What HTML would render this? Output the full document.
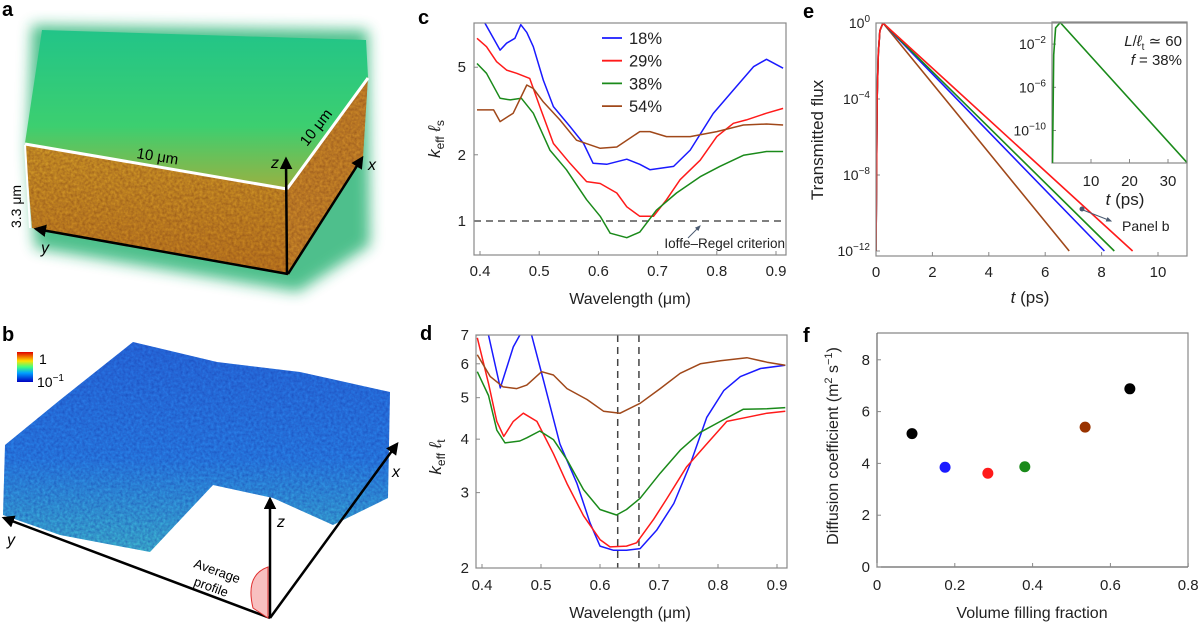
<!DOCTYPE html>
<html><head><meta charset="utf-8"><style>
html,body{margin:0;padding:0;background:#fff;}
svg{display:block;font-family:"Liberation Sans",sans-serif;}
</style></head><body>
<svg id="fig" width="1200" height="624" viewBox="0 0 1200 624" xmlns="http://www.w3.org/2000/svg">
<defs>
<filter id="blur8" x="-20%" y="-20%" width="140%" height="140%"><feGaussianBlur stdDeviation="7"/></filter>
<filter id="tex" x="0" y="0" width="100%" height="100%">
<feTurbulence type="fractalNoise" baseFrequency="0.35" numOctaves="2" seed="3" result="n"/>
<feColorMatrix in="n" type="matrix" values="0 0 0 0 0  0 0 0 0 0  0 0 0 0 0  0 0 0 -1.4 1.1" result="a"/>
<feComposite in="SourceGraphic" in2="a" operator="in"/>
</filter>
<linearGradient id="topG" x1="0" y1="0" x2="0" y2="1"><stop offset="0" stop-color="#22c488"/><stop offset="0.6" stop-color="#3ccf70"/><stop offset="1" stop-color="#9cb040"/></linearGradient>
<linearGradient id="frontG" x1="0" y1="0" x2="0" y2="1"><stop offset="0" stop-color="#d09a2a"/><stop offset="1" stop-color="#c07a20"/></linearGradient>
<linearGradient id="bG" x1="0" y1="0" x2="0" y2="1"><stop offset="0" stop-color="#2a6ee0"/><stop offset="0.55" stop-color="#2a80e6"/><stop offset="1" stop-color="#40b8d0"/></linearGradient>
<linearGradient id="jet" x1="0" y1="1" x2="0" y2="0"><stop offset="0" stop-color="#0000c0"/><stop offset="0.3" stop-color="#00a0ff"/><stop offset="0.5" stop-color="#40ff80"/><stop offset="0.7" stop-color="#ffe000"/><stop offset="1" stop-color="#e00000"/></linearGradient>
<marker id="ah" viewBox="0 0 10 10" refX="8" refY="5" markerWidth="5" markerHeight="5" orient="auto"><path d="M0,0L10,5L0,10z" fill="#000"/></marker>
<marker id="ahg" viewBox="0 0 10 10" refX="8" refY="5" markerWidth="6" markerHeight="6" orient="auto"><path d="M0,1L10,5L0,9z" fill="#4a5a70"/></marker>
<clipPath id="clipC"><rect x="474" y="23" width="312" height="232"/></clipPath>
<clipPath id="clipD"><rect x="476" y="335" width="311" height="233"/></clipPath>
<clipPath id="clipE"><rect x="876" y="23" width="311" height="233"/></clipPath>
<clipPath id="clipI"><rect x="1052" y="22" width="135" height="141"/></clipPath>
</defs>

<!-- Panel a -->
<g>
<text x="2" y="16" font-size="20" font-weight="bold">a</text>
<polygon points="32,25 368,30 370,245 298,292 35,248 28,150" fill="#20b070" opacity="0.8" filter="url(#blur8)"/>
<polygon points="42,30 366,40 368,77 287,190 25,143" fill="url(#topG)"/>
<polygon points="25,143 287,190 288,275 32,228" fill="url(#frontG)"/>
<polygon points="25,143 287,190 288,275 32,228" fill="#7a3a10" filter="url(#tex)" opacity="0.55"/>
<polygon points="287,190 368,77 363,157 288,275" fill="#c8862a"/>
<polygon points="287,190 368,77 363,157 288,275" fill="#7a3a10" filter="url(#tex)" opacity="0.55"/>
<line x1="25" y1="144" x2="287" y2="189" stroke="#fff" stroke-width="3"/>
<line x1="287" y1="189" x2="368" y2="78" stroke="#fff" stroke-width="3"/>
<line x1="25" y1="145" x2="30" y2="228" stroke="#fff" stroke-width="2"/>
<text x="136" y="158" font-size="15" transform="rotate(9 136 158)">10 μm</text>
<text x="307" y="147" font-size="15" transform="rotate(-52 307 147)">10 μm</text>
<text x="21" y="228" font-size="14" transform="rotate(-90 21 228)">3.3 μm</text>
<line x1="288" y1="274" x2="36" y2="229" stroke="#000" stroke-width="2.5" marker-end="url(#ah)"/>
<line x1="288" y1="274" x2="362" y2="158" stroke="#000" stroke-width="2.5" marker-end="url(#ah)"/>
<line x1="287" y1="274" x2="286" y2="159" stroke="#000" stroke-width="2.5" marker-end="url(#ah)"/>
<text x="41" y="253" font-size="16" font-style="italic">y</text>
<text x="368" y="170" font-size="16" font-style="italic">x</text>
<text x="271" y="168" font-size="16" font-style="italic">z</text>
</g>

<!-- Panel b -->
<g>
<text x="2" y="341" font-size="20" font-weight="bold">b</text>
<rect x="17" y="352" width="16" height="30" fill="url(#jet)"/>
<text x="39" y="364" font-size="14">1</text>
<text x="37" y="387" font-size="14">10<tspan font-size="10" dy="-6">−1</tspan></text>
<polygon points="5,445 60,400 133,342 217,362 300,372 390,392 388,498 333,525 273,498 213,485 150,552 60,535 3,515" fill="url(#bG)"/>
<polygon points="5,445 60,400 133,342 217,362 300,372 390,392 388,498 333,525 273,498 213,485 150,552 60,535 3,515" fill="#1030a0" filter="url(#tex)" opacity="0.5"/>
<line x1="270" y1="618" x2="4" y2="518" stroke="#000" stroke-width="2.5" marker-end="url(#ah)"/>
<line x1="270" y1="618" x2="397" y2="444" stroke="#000" stroke-width="2.5" marker-end="url(#ah)"/>
<line x1="270" y1="618" x2="270" y2="499" stroke="#000" stroke-width="2.5" marker-end="url(#ah)"/>
<text x="7" y="545" font-size="16" font-style="italic">y</text>
<text x="392" y="477" font-size="16" font-style="italic">x</text>
<text x="277" y="527" font-size="16" font-style="italic">z</text>
<path d="M268,567 Q245,575 253,608 L268,618 Z" fill="#f8c0c0" stroke="#e03030" stroke-width="1"/>
<text x="193" y="567" font-size="13" transform="rotate(20 193 567)">Average</text>
<text x="193" y="585" font-size="13" transform="rotate(20 193 585)">profile</text>
</g>

<g id="charts"></g>
</svg>
<script>
// ---- Panel c data ----
var cBlueWl=[0.408,0.434,0.445,0.459,0.469,0.479,0.49,0.507,0.524,0.552,0.575,0.591,0.614,0.648,0.670,0.687,0.727,0.755,0.794,0.828,0.862,0.884,0.912];
var cBlueV=[7.97,5.98,6.43,6.77,7.8,7.2,6.2,4.37,3.31,2.69,2.25,1.83,1.81,1.91,1.81,1.71,1.77,2.10,3.08,3.94,5.03,5.43,4.95];
var cRedWl=[0.395,0.411,0.428,0.445,0.462,0.484,0.501,0.524,0.552,0.580,0.603,0.631,0.648,0.670,0.693,0.715,0.738,0.772,0.800,0.828,0.850,0.884,0.912];
var cRedV=[6.77,6.2,5.3,4.85,4.69,4.45,3.31,2.25,1.83,1.51,1.48,1.34,1.16,1.05,1.05,1.25,1.54,1.89,2.42,2.78,2.88,3.09,3.25];
var cGreenWl=[0.395,0.411,0.434,0.451,0.470,0.490,0.518,0.546,0.580,0.603,0.620,0.648,0.670,0.698,0.732,0.772,0.805,0.845,0.884,0.912];
var cGreenV=[5.2,4.69,3.61,3.55,3.61,3.09,2.10,1.71,1.25,1.05,0.88,0.84,0.89,1.12,1.34,1.59,1.77,1.99,2.07,2.07];
var cBrownWl=[0.395,0.423,0.434,0.456,0.479,0.490,0.507,0.535,0.563,0.603,0.631,0.670,0.687,0.715,0.755,0.800,0.845,0.884,0.912];
var cBrownV=[3.2,3.2,2.83,3.09,4.15,4.0,3.48,2.88,2.33,2.14,2.17,2.55,2.55,2.42,2.42,2.55,2.73,2.76,2.73];
var cXTicks=[0.4,0.5,0.6,0.7,0.8,0.9];
var cYTicks=[1,2,5];
var legendLabels=["18%","29%","38%","54%"];
// ---- Panel d data ----
var dBlueWl=[0.411,0.431,0.453,0.464,0.474,0.484,0.504,0.532,0.561,0.583,0.600,0.623,0.645,0.668,0.696,0.725,0.753,0.781,0.810,0.838,0.872,0.914];
var dBlueV=[7.0,5.27,6.57,7.0,7.6,7.0,5.5,3.9,3.15,2.55,2.25,2.2,2.2,2.22,2.45,2.83,3.5,4.5,5.2,5.6,5.85,5.95];
var dRedWl=[0.392,0.411,0.425,0.437,0.453,0.470,0.493,0.521,0.544,0.572,0.600,0.617,0.645,0.662,0.691,0.713,0.747,0.781,0.815,0.849,0.883,0.914];
var dRedV=[6.9,5.4,4.4,4.06,4.4,4.6,4.4,3.7,3.15,2.65,2.33,2.24,2.25,2.29,2.6,2.9,3.45,3.9,4.4,4.5,4.6,4.65];
var dGreenWl=[0.392,0.411,0.425,0.439,0.464,0.476,0.498,0.521,0.544,0.572,0.600,0.628,0.645,0.668,0.702,0.736,0.770,0.804,0.843,0.883,0.914];
var dGreenV=[5.75,5.06,4.2,3.92,3.96,4.03,4.18,3.99,3.58,3.05,2.74,2.66,2.74,2.91,3.33,3.77,4.15,4.4,4.7,4.71,4.74];
var dBrownWl=[0.392,0.414,0.436,0.459,0.476,0.501,0.521,0.544,0.578,0.606,0.634,0.668,0.702,0.736,0.770,0.804,0.849,0.883,0.914];
var dBrownV=[6.3,5.6,5.3,5.25,5.35,5.75,5.65,5.25,4.95,4.65,4.6,4.85,5.25,5.7,6.0,6.1,6.2,6.05,5.95];
var dDashWl=[0.630,0.666];
var dYTicks=[2,3,4,5,6,7];
// ---- Panel e data (log10 flux) ----
var eT=[0,0.04,0.08,0.14,0.25];
var eLogRise=[-12,-4,-1.6,-0.4,0];
var eEndT=[8.1,9.1,8.45,6.85]; // blue, red, green, brown: time at 1e-12
var eXTicks=[0,2,4,6,8,10];
var eYTicks=[0,-4,-8,-12];
var insetT=[0,0.3,0.8,2,35];
var insetLog=[-13,-3,-0.5,0,-13];
var insetXTicks=[10,20,30];
var insetYTicks=[-2,-6,-10];
// ---- Panel f data ----
var fFrac=[0.09,0.175,0.285,0.38,0.535,0.65];
var fD=[5.15,3.85,3.62,3.87,5.4,6.88];
var fColors=["#000","#1a1aff","#ff1a1a","#1a8a1a","#993300","#000"];
var fXTicks=[0,0.2,0.4,0.6,0.8];
var fYTicks=[0,2,4,6,8];

var colors=["#1a1aff","#ff1a1a","#1a8a1a","#a0481a"];
var NS="http://www.w3.org/2000/svg";
var root=document.getElementById("charts");
function mk(tag,attrs,parent){var e=document.createElementNS(NS,tag);for(var k in attrs)e.setAttribute(k,attrs[k]);(parent||root).appendChild(e);return e;}
function txt(x,y,s,size,anchor,parent){var t=mk("text",{x:x,y:y,"font-size":size,"text-anchor":anchor||"middle",fill:"#222"},parent);t.textContent=s;return t;}
function pathFrom(xs,ys,fx,fy){var d="";for(var i=0;i<xs.length;i++)d+=(i?"L":"M")+fx(xs[i]).toFixed(1)+","+fy(ys[i]).toFixed(1);return d;}
function frame(x,y,w,h,name){var r=mk("rect",{x:x,y:y,width:w,height:h,fill:"none",stroke:"#888","stroke-width":1.2});}

// ===== Panel c =====
var cx=function(w){return 480+(w-0.4)*592;};
var cy=function(v){return 221-220*Math.log10(v);};
var gc=mk("g",{});


var lc=txt(418,24,"c",20,"start",gc);lc.setAttribute("font-weight","bold");lc.setAttribute("fill","#000");


frame(474,23,312,232,'panel-c-frame');
cXTicks.forEach(function(t){mk("line",{x1:cx(t),x2:cx(t),y1:255,y2:251,stroke:"#888"},gc);var l=txt(cx(t),276,t.toFixed(1),15,"middle",gc);

});
cYTicks.forEach(function(t){mk("line",{x1:474,x2:478,y1:cy(t),y2:cy(t),stroke:"#888"},gc);var l=txt(466,cy(t)+5,String(t),15,"end",gc);

});
var xc=txt(630,304,"Wavelength (μm)",16,"middle",gc);


var yc=mk("text",{x:0,y:0,"font-size":17,"text-anchor":"middle",transform:"translate(440,139) rotate(-90)",fill:"#222"},gc);
yc.innerHTML='<tspan font-style="italic">k</tspan><tspan font-size="12" dy="4">eff</tspan><tspan dy="-4" font-style="italic"> ℓ</tspan><tspan font-size="12" dy="4">s</tspan>';


var dl=mk("line",{x1:474,x2:786,y1:cy(1),y2:cy(1),stroke:"#333","stroke-dasharray":"7,5","stroke-width":1.2},gc);


var ir=txt(785,248,"Ioffe–Regel criterion",13.5,"end",gc);


var ia=mk("line",{x1:688,y1:238,x2:700,y2:226,stroke:"#4a5a70","stroke-width":1,"marker-end":"url(#ahg)"},gc);


var cSeries=[[cBlueWl,cBlueV],[cRedWl,cRedV],[cGreenWl,cGreenV],[cBrownWl,cBrownV]];
var cNames=['c-line-18','c-line-29','c-line-38','c-line-54'];
cSeries.forEach(function(s,i){var p=mk("path",{d:pathFrom(s[0],s[1],cx,cy),fill:"none",stroke:colors[i],"stroke-width":1.5,"clip-path":"url(#clipC)","stroke-linejoin":"round"},gc);

});
legendLabels.forEach(function(s,i){var y=38+i*22.7;var g=mk("g",{},gc);


mk("line",{x1:602,x2:622,y1:y,y2:y,stroke:colors[i],"stroke-width":1.8},g);txt(629,y+6,s,16.5,"start",g);});

// ===== Panel d =====
var dx=function(w){return 482+(w-0.4)*590;};
var dy=function(v){return 568-428*Math.log10(v/2);};
var gd=mk("g",{});


var ld=txt(420,340,"d",20,"start",gd);ld.setAttribute("font-weight","bold");ld.setAttribute("fill","#000");


frame(476,335,311,233,'panel-d-frame');
cXTicks.forEach(function(t){mk("line",{x1:dx(t),x2:dx(t),y1:568,y2:564,stroke:"#888"},gd);var l=txt(dx(t),590,t.toFixed(1),15,"middle",gd);

});
dYTicks.forEach(function(t){mk("line",{x1:476,x2:480,y1:dy(t),y2:dy(t),stroke:"#888"},gd);var l=txt(469,dy(t)+5,String(t),15,"end",gd);

});
var xd=txt(630,618,"Wavelength (μm)",16,"middle",gd);


var yd=mk("text",{x:0,y:0,"font-size":17,"text-anchor":"middle",transform:"translate(441,457) rotate(-90)",fill:"#222"},gd);
yd.innerHTML='<tspan font-style="italic">k</tspan><tspan font-size="12" dy="4">eff</tspan><tspan dy="-4" font-style="italic"> ℓ</tspan><tspan font-size="12" dy="4">t</tspan>';


dDashWl.forEach(function(w){var l=mk("line",{x1:dx(w),x2:dx(w),y1:335,y2:568,stroke:"#444","stroke-dasharray":"7,5","stroke-width":1.5},gd);

});
var dSeries=[[dBlueWl,dBlueV],[dRedWl,dRedV],[dGreenWl,dGreenV],[dBrownWl,dBrownV]];
var dNames=['d-line-18','d-line-29','d-line-38','d-line-54'];
dSeries.forEach(function(s,i){var p=mk("path",{d:pathFrom(s[0],s[1],dx,dy),fill:"none",stroke:colors[i],"stroke-width":1.5,"clip-path":"url(#clipD)","stroke-linejoin":"round"},gd);

});

// ===== Panel e =====
var ex=function(t){return 876+t*28.2;};
var ey=function(l){return 23-19*l;};
var ge=mk("g",{});


var le=txt(803,18,"e",20,"start",ge);le.setAttribute("font-weight","bold");le.setAttribute("fill","#000");


frame(876,23,311,233,'panel-e-frame');
eXTicks.forEach(function(t){mk("line",{x1:ex(t),x2:ex(t),y1:256,y2:252,stroke:"#888"},ge);var l=txt(ex(t),277,String(t),15,"middle",ge);

});
eYTicks.forEach(function(t){mk("line",{x1:876,x2:880,y1:ey(t),y2:ey(t),stroke:"#888"},ge);var l=txt(870,ey(t)+5,"",14,"end",ge);l.innerHTML='10<tspan font-size="10" dy="-6">'+(t<0?'−'+(-t):'0')+'</tspan>';

});
var xe=mk("text",{x:1030,y:303,"font-size":17,"text-anchor":"middle",fill:"#222"},ge);xe.innerHTML='<tspan font-style="italic">t</tspan> (ps)';


var ye=txt(0,0,"Transmitted flux",17,"middle",ge);ye.setAttribute("transform","translate(823,140) rotate(-90)");


var eNames=['e-line-18','e-line-29','e-line-38','e-line-54'];
[3,0,2,1].forEach(function(i){var ts=eT.concat([eEndT[i]]);var ls=eLogRise.concat([-12]);
var p=mk("path",{d:pathFrom(ts,ls,ex,ey),fill:"none",stroke:colors[i],"stroke-width":1.6,"clip-path":"url(#clipE)"},ge);

});
// inset
var ix=function(t){return 1052.5+t*3.85;};
var iy=function(l){return 22.5-10.8*l;};
var gi=mk("g",{},ge);


mk("rect",{x:1052,y:22,width:135,height:141,fill:"#fff",stroke:"#888","stroke-width":1.2},gi);
insetXTicks.forEach(function(t){mk("line",{x1:ix(t),x2:ix(t),y1:163,y2:159,stroke:"#888"},gi);var l=txt(ix(t),186,String(t),15,"middle",gi);

});
insetYTicks.forEach(function(t){mk("line",{x1:1052,x2:1056,y1:iy(t),y2:iy(t),stroke:"#888"},gi);var l=txt(1046,iy(t)+5,"",14,"end",gi);l.innerHTML='10<tspan font-size="10" dy="-6">−'+(-t)+'</tspan>';

});
var xi=mk("text",{x:1125,y:205,"font-size":17,"text-anchor":"middle",fill:"#222"},gi);xi.innerHTML='<tspan font-style="italic">t</tspan> (ps)';


var ip=mk("path",{d:pathFrom(insetT,insetLog,ix,iy),fill:"none",stroke:"#1a8a1a","stroke-width":1.6,"clip-path":"url(#clipI)"},gi);


var it1=mk("text",{x:1182,y:46,"font-size":15,"text-anchor":"end",fill:"#222"},gi);it1.innerHTML='<tspan font-style="italic">L</tspan>/<tspan font-style="italic">ℓ</tspan><tspan font-size="10" dy="4">t</tspan><tspan dy="-4"> ≃ 60</tspan>';


var it2=mk("text",{x:1182,y:65,"font-size":15,"text-anchor":"end",fill:"#222"},gi);it2.innerHTML='<tspan font-style="italic">f</tspan> = 38%';


var pd=mk("circle",{cx:1082,cy:209,r:2.5,fill:"#4a5a70"},ge);


var pa=mk("line",{x1:1083,y1:210,x2:1111,y2:221,stroke:"#4a5a70","stroke-width":1,"marker-end":"url(#ahg)"},ge);


var pt=txt(1122,231,"Panel b",14,"start",ge);



// ===== Panel f =====
var fx=function(v){return 877+v*389;};
var fy=function(v){return 567-v*25.9;};
var gf=mk("g",{});


var lf=txt(803,342,"f",20,"start",gf);lf.setAttribute("font-weight","bold");lf.setAttribute("fill","#000");


mk("polyline",{points:"877,333 1188,333 1188,567",fill:"none",stroke:"#888","stroke-width":1.2},gf);
mk("polyline",{points:"877,333 877,567 1188,567",fill:"none",stroke:"#666","stroke-width":1.2},gf);
fXTicks.forEach(function(t){mk("line",{x1:fx(t),x2:fx(t),y1:567,y2:563,stroke:"#888"},gf);var l=txt(fx(t),590,t===0?"0":t.toFixed(1),15,"middle",gf);

});
fYTicks.forEach(function(t){mk("line",{x1:877,x2:881,y1:fy(t),y2:fy(t),stroke:"#888"},gf);var l=txt(870,fy(t)+5,String(t),15,"end",gf);

});
var xf=txt(1032,618,"Volume filling fraction",16,"middle",gf);


var yf=mk("text",{x:0,y:0,"font-size":16,"text-anchor":"middle",transform:"translate(838,446) rotate(-90)",fill:"#222"},gf);
yf.innerHTML='Diffusion coefficient (m<tspan font-size="11" dy="-6">2</tspan><tspan dy="6"> s</tspan><tspan font-size="11" dy="-6">−1</tspan><tspan dy="6">)</tspan>';


fFrac.forEach(function(v,i){var c=mk("circle",{cx:fx(v),cy:fy(fD[i]),r:5.5,fill:fColors[i]},gf);

});
</script>
</body></html>
